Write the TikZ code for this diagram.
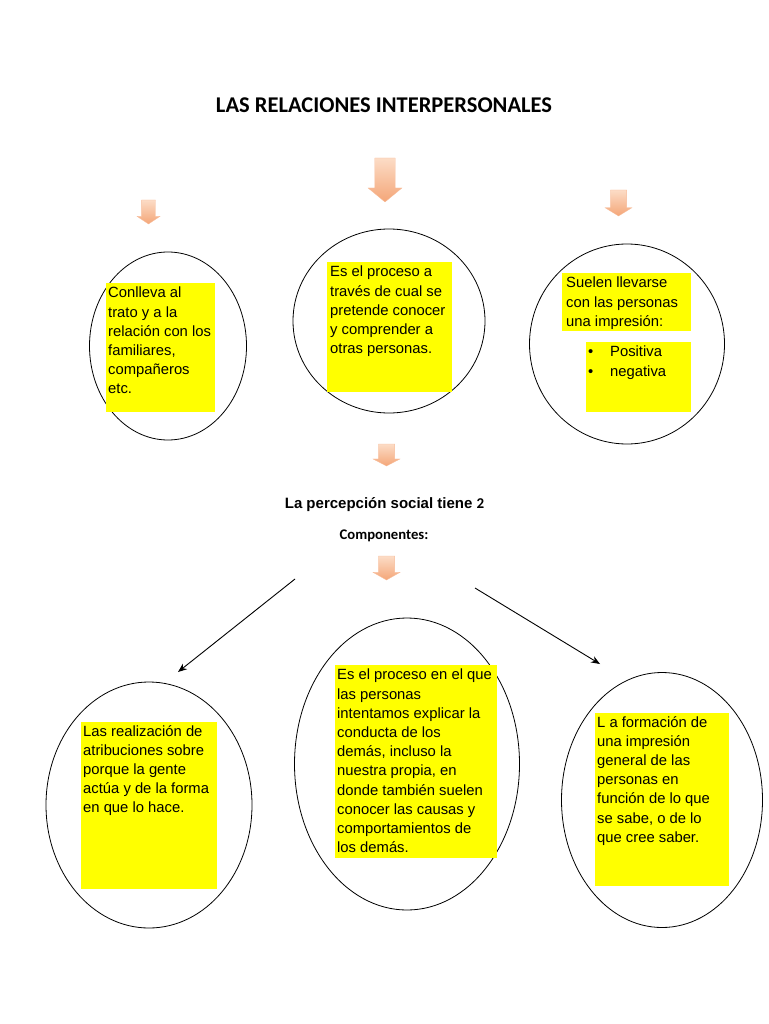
\documentclass[tikz,border=0pt]{standalone}
\usepackage{fontspec}
\setmainfont{Liberation Sans}
\newfontfamily\calib{Carlito}
\usetikzlibrary{shapes.geometric,arrows.meta}
\definecolor{hl}{RGB}{255,255,0}
\definecolor{arrA}{RGB}{252,220,198}
\definecolor{arrB}{RGB}{244,166,120}
\begin{document}
\begin{tikzpicture}[x=1pt,y=-1pt,
  oval/.style={draw, ellipse, line width=0.8pt, inner sep=0pt},
  ybox/.style={fill=hl, inner sep=0pt, anchor=north west},
  btxt/.style={anchor=north west, inner sep=0pt, align=left, font=\fontsize{14.8}{19.2}\selectfont},
  barrow/.pic={\shade[top color=arrA, bottom color=arrB, draw=arrB!75, line width=0.3pt]
     (-0.3,0) -- (0.3,0) -- (0.3,0.68) -- (0.5,0.68) -- (0,1) -- (-0.5,0.68) -- (-0.3,0.68) -- cycle;},
  blk/.style={-{Stealth[length=9pt,width=7pt]}, line width=0.9pt}
]
\useasboundingbox (0,0) rectangle (768,1024);

% title
\node[font=\calib\bfseries\fontsize{22.5}{26}\selectfont, anchor=base, inner sep=0pt] (title) at (384,113) {LAS RELACIONES INTERPERSONALES};

% block arrows
\pic[xscale=34,yscale=44] (a1) at (385,158) {barrow};
\pic[xscale=23,yscale=24] (a2) at (148.5,200) {barrow};
\pic[xscale=27,yscale=26] (a3) at (618.5,190) {barrow};
\pic[xscale=27,yscale=22] (a4) at (386.5,444) {barrow};
\pic[xscale=27,yscale=24] (a5) at (386.5,556) {barrow};

% top ellipses
\node[oval, minimum width=157pt, minimum height=188pt] (e1) at (168,346) {};
\node[oval, minimum width=192pt, minimum height=184pt] (e2) at (389,321) {};
\node[oval, minimum width=195pt, minimum height=200pt] (e3) at (627,344) {};

% top yellow boxes
\node[ybox, minimum width=109pt, minimum height=129pt] (y1) at (106,283) {};
\node[ybox, minimum width=125pt, minimum height=130pt] (y2) at (327,262) {};
\node[ybox, minimum width=129pt, minimum height=58pt] (y3) at (562,273) {};
\node[ybox, minimum width=105pt, minimum height=70pt] (y3b) at (586,342) {};

\node[btxt] (t1) at (108,287) {Conlleva al\\trato y a la\\relación con los\\familiares,\\compañeros\\etc.};
\node[btxt] (t2) at (330,266) {Es el proceso a\\través de cual se\\pretende conocer\\y comprender a\\otras personas.};
\node[btxt] (t3) at (566,277) {Suelen llevarse\\con las personas\\una impresión:};
\node[btxt] (t3b) at (588,346) {\makebox[22pt][l]{\textbullet}Positiva\\\makebox[22pt][l]{\textbullet}negativa};

% middle texts
\node[font=\bfseries\fontsize{15}{18}\selectfont, anchor=base, inner sep=0pt] (perc) at (384.5,508) {La percepción social tiene {\calib 2}};
\node[font=\calib\bfseries\fontsize{14.7}{18}\selectfont, anchor=base, inner sep=0pt] (comp) at (384,539) {Componentes:};

% bottom ellipses
\node[oval, minimum width=206pt, minimum height=246pt] (e4) at (149,805) {};
\node[oval, minimum width=225pt, minimum height=292pt] (e5) at (407,764) {};
\node[oval, minimum width=201pt, minimum height=255pt] (e6) at (662,800) {};

% bottom yellow boxes
\node[ybox, minimum width=136pt, minimum height=167pt] (y4) at (81,722) {};
\node[ybox, minimum width=162pt, minimum height=193pt] (y5) at (335,665) {};
\node[ybox, minimum width=134pt, minimum height=173pt] (y6) at (595,713) {};

\node[btxt] (t4) at (83,725) {Las realización de\\atribuciones sobre\\porque la gente\\actúa y de la forma\\en que lo hace.};
\node[btxt] (t5) at (337,669) {Es el proceso en el que\\las personas\\intentamos explicar la\\conducta de los\\demás, incluso la\\nuestra propia, en\\donde también suelen\\conocer las causas y\\comportamientos de\\los demás.};
\node[btxt] (t6) at (597,716) {L a formación de\\una impresión\\general de las\\personas en\\función de lo que\\se sabe, o de lo\\que cree saber.};

% black arrows
\coordinate (l0) at (295,579);
\coordinate (l1) at (178,672);
\coordinate (r0) at (475,588);
\coordinate (r1) at (600,664);
\draw[blk] (l0) -- (l1);
\draw[blk] (r0) -- (r1);
\end{tikzpicture}
\end{document}
